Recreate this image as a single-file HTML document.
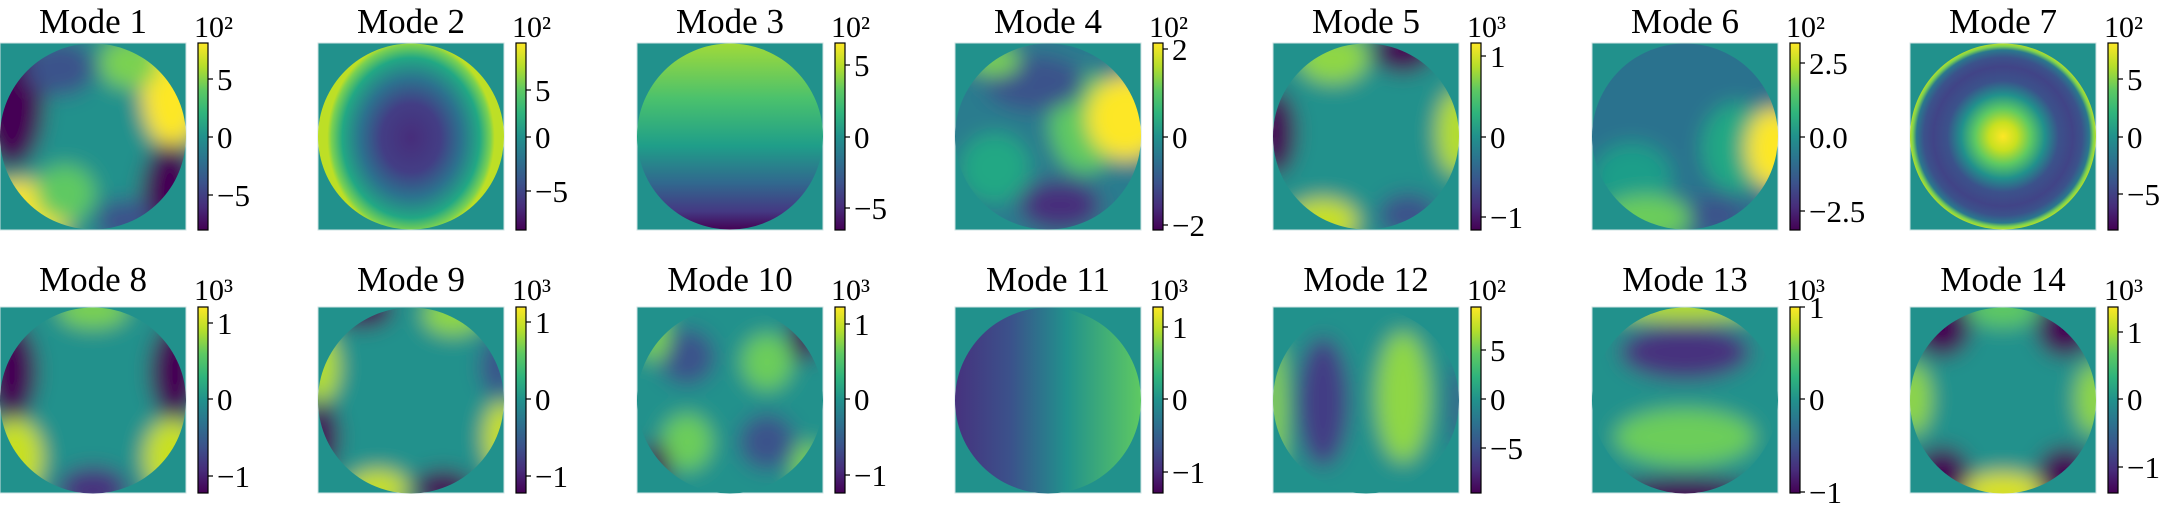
<!DOCTYPE html>
<html><head><meta charset="utf-8"><style>
html,body{margin:0;padding:0;background:#fff;}
svg{display:block;}
text{font-family:"Liberation Serif","Times New Roman",serif;fill:#000;}
.t{font-size:35px;text-anchor:middle;}
.e{font-size:30px;}
.k{font-size:31px;}
</style></head><body>
<svg width="2170" height="510" viewBox="0 0 2170 510" xmlns="http://www.w3.org/2000/svg" font-family="Liberation Serif, serif">
<defs>
<linearGradient id="vir" x1="0" y1="0" x2="0" y2="1">
<stop offset="0" stop-color="#fde725"/><stop offset="0.125" stop-color="#b5de2b"/><stop offset="0.25" stop-color="#5ec962"/><stop offset="0.375" stop-color="#2fb47c"/><stop offset="0.5" stop-color="#21918c"/><stop offset="0.625" stop-color="#2c728e"/><stop offset="0.75" stop-color="#3b528b"/><stop offset="0.875" stop-color="#472d7b"/><stop offset="1" stop-color="#440154"/>
</linearGradient>
<clipPath id="c"><circle cx="93" cy="93.5" r="93"/></clipPath>
<filter id="b" x="-30%" y="-30%" width="160%" height="160%"><feGaussianBlur stdDeviation="10"/></filter>
<radialGradient id="g2" gradientUnits="userSpaceOnUse" cx="93" cy="95" r="93" gradientTransform="translate(93 95) scale(0.9 1.05) translate(-93 -95)">
<stop offset="0" stop-color="#472d7b"/><stop offset="0.35" stop-color="#433e85"/><stop offset="0.6" stop-color="#2c728e"/><stop offset="0.82" stop-color="#22a884"/><stop offset="0.95" stop-color="#7ad151"/><stop offset="1" stop-color="#bddf26"/>
</radialGradient>
<linearGradient id="g3" x1="0" y1="0" x2="0" y2="1">
<stop offset="0" stop-color="#a0da39"/><stop offset="0.3" stop-color="#4ac16d"/><stop offset="0.55" stop-color="#1f9e89"/><stop offset="0.75" stop-color="#31688e"/><stop offset="0.9" stop-color="#443983"/><stop offset="1" stop-color="#440154"/>
</linearGradient>
<radialGradient id="g7" gradientUnits="userSpaceOnUse" cx="93" cy="93.5" r="93">
<stop offset="0" stop-color="#fde725"/><stop offset="0.15" stop-color="#c8e020"/><stop offset="0.3" stop-color="#5ec962"/><stop offset="0.45" stop-color="#21918c"/><stop offset="0.6" stop-color="#3b528b"/><stop offset="0.75" stop-color="#414487"/><stop offset="0.85" stop-color="#3b528b"/><stop offset="0.93" stop-color="#2a788e"/><stop offset="0.97" stop-color="#7ad151"/><stop offset="1" stop-color="#b5de2b"/>
</radialGradient>
<linearGradient id="g11" x1="0" y1="0" x2="1" y2="0">
<stop offset="0" stop-color="#46327e"/><stop offset="0.3" stop-color="#3b528b"/><stop offset="0.6" stop-color="#21918c"/><stop offset="1" stop-color="#5ec962"/>
</linearGradient>
</defs>

<!-- Mode 1 -->
<g transform="translate(0,43)">
<rect width="186" height="187" fill="#21918c" stroke="#cfe3e3" stroke-width="1"/>
<g clip-path="url(#c)"><g filter="url(#b)"><rect x="-20" y="-20" width="226" height="227" fill="#21918c"/>
<ellipse cx="12" cy="60" rx="32" ry="65" fill="#440154"/><ellipse cx="60" cy="25" rx="35" ry="28" fill="#3b528b"/>
<ellipse cx="172" cy="50" rx="30" ry="55" fill="#fde725"/><ellipse cx="130" cy="20" rx="30" ry="25" fill="#7ad151"/>
<ellipse cx="25" cy="168" rx="50" ry="30" fill="#fde725"/><ellipse cx="65" cy="150" rx="30" ry="28" fill="#5ec962"/>
<ellipse cx="170" cy="150" rx="28" ry="50" fill="#440154"/><ellipse cx="125" cy="178" rx="30" ry="22" fill="#3b528b"/>
</g></g></g>
<!-- Mode 2 -->
<g transform="translate(318,43)">
<rect width="186" height="187" fill="#21918c" stroke="#cfe3e3" stroke-width="1"/>
<g clip-path="url(#c)"><rect width="186" height="187" fill="url(#g2)"/></g></g>
<!-- Mode 3 -->
<g transform="translate(637,43)">
<rect width="186" height="187" fill="#21918c" stroke="#cfe3e3" stroke-width="1"/>
<g clip-path="url(#c)"><rect width="186" height="187" fill="url(#g3)"/></g></g>
<!-- Mode 4 -->
<g transform="translate(955,43)">
<rect width="186" height="187" fill="#21918c" stroke="#cfe3e3" stroke-width="1"/>
<g clip-path="url(#c)"><g filter="url(#b)"><rect x="-20" y="-20" width="226" height="227" fill="#2a7b8e"/>
<ellipse cx="130" cy="80" rx="35" ry="50" fill="#5ec962"/><ellipse cx="172" cy="75" rx="40" ry="42" fill="#fde725"/>
<ellipse cx="80" cy="40" rx="50" ry="28" fill="#3b528b"/><ellipse cx="105" cy="162" rx="40" ry="25" fill="#472d7b"/>
<ellipse cx="40" cy="125" rx="35" ry="35" fill="#22a884"/><ellipse cx="40" cy="18" rx="25" ry="15" fill="#7ad151"/>
</g></g></g>
<!-- Mode 5 -->
<g transform="translate(1273,43)">
<rect width="186" height="187" fill="#21918c" stroke="#cfe3e3" stroke-width="1"/>
<g clip-path="url(#c)"><g filter="url(#b)"><rect x="-20" y="-20" width="226" height="227" fill="#21918c"/>
<ellipse cx="130" cy="8" rx="30" ry="22" fill="#440154"/><ellipse cx="3" cy="90" rx="20" ry="42" fill="#440154"/>
<ellipse cx="184" cy="90" rx="20" ry="42" fill="#b5de2b"/><ellipse cx="50" cy="178" rx="35" ry="22" fill="#c8e020"/>
<ellipse cx="60" cy="15" rx="35" ry="25" fill="#8fd744"/><ellipse cx="135" cy="172" rx="30" ry="22" fill="#3b528b"/>
</g></g></g>
<!-- Mode 6 -->
<g transform="translate(1592,43)">
<rect width="186" height="187" fill="#21918c" stroke="#cfe3e3" stroke-width="1"/>
<g clip-path="url(#c)"><g filter="url(#b)"><rect x="-20" y="-20" width="226" height="227" fill="#2c728e"/>
<ellipse cx="145" cy="105" rx="35" ry="45" fill="#22a884"/><ellipse cx="182" cy="105" rx="28" ry="40" fill="#fde725"/>
<ellipse cx="40" cy="135" rx="40" ry="35" fill="#1f9e89"/><ellipse cx="55" cy="175" rx="45" ry="22" fill="#6ccd5a"/>
<ellipse cx="125" cy="172" rx="28" ry="20" fill="#3b528b"/>
</g></g></g>
<!-- Mode 7 -->
<g transform="translate(1910,43)">
<rect width="186" height="187" fill="#21918c" stroke="#cfe3e3" stroke-width="1"/>
<g clip-path="url(#c)"><rect width="186" height="187" fill="url(#g7)"/></g></g>

<!-- Mode 8 -->
<g transform="translate(0,307)">
<rect width="186" height="186" fill="#21918c" stroke="#cfe3e3" stroke-width="1"/>
<g clip-path="url(#c)"><g filter="url(#b)"><rect x="-20" y="-20" width="226" height="227" fill="#21918c"/>
<ellipse cx="12" cy="65" rx="25" ry="48" fill="#440154"/><ellipse cx="175" cy="65" rx="25" ry="48" fill="#440154"/>
<ellipse cx="93" cy="182" rx="35" ry="22" fill="#46327e"/><ellipse cx="93" cy="3" rx="35" ry="18" fill="#7ad151"/>
<ellipse cx="15" cy="150" rx="28" ry="38" fill="#c8e020"/><ellipse cx="172" cy="150" rx="28" ry="38" fill="#c8e020"/>
</g></g></g>
<!-- Mode 9 -->
<g transform="translate(318,307)">
<rect width="186" height="186" fill="#21918c" stroke="#cfe3e3" stroke-width="1"/>
<g clip-path="url(#c)"><g filter="url(#b)"><rect x="-20" y="-20" width="226" height="227" fill="#21918c"/>
<ellipse cx="45" cy="3" rx="30" ry="18" fill="#440154"/><ellipse cx="135" cy="8" rx="30" ry="20" fill="#8fd744"/>
<ellipse cx="3" cy="60" rx="18" ry="35" fill="#b5de2b"/><ellipse cx="3" cy="130" rx="18" ry="35" fill="#440154"/>
<ellipse cx="184" cy="130" rx="18" ry="35" fill="#c8e020"/><ellipse cx="180" cy="60" rx="18" ry="30" fill="#3b528b"/>
<ellipse cx="60" cy="181" rx="30" ry="18" fill="#c8e020"/><ellipse cx="125" cy="181" rx="30" ry="18" fill="#440154"/>
</g></g></g>
<!-- Mode 10 -->
<g transform="translate(637,307)">
<rect width="186" height="186" fill="#21918c" stroke="#cfe3e3" stroke-width="1"/>
<g clip-path="url(#c)"><g filter="url(#b)"><rect x="-20" y="-20" width="226" height="227" fill="#21918c"/>
<ellipse cx="50" cy="50" rx="28" ry="28" fill="#3b528b"/><ellipse cx="130" cy="135" rx="28" ry="28" fill="#3b528b"/>
<ellipse cx="130" cy="55" rx="25" ry="28" fill="#6ccd5a"/><ellipse cx="50" cy="135" rx="25" ry="28" fill="#6ccd5a"/>
<ellipse cx="168" cy="30" rx="15" ry="25" fill="#440154"/><ellipse cx="18" cy="160" rx="15" ry="25" fill="#440154"/>
<ellipse cx="18" cy="30" rx="15" ry="25" fill="#7ad151"/><ellipse cx="170" cy="160" rx="15" ry="25" fill="#7ad151"/>
</g></g></g>
<!-- Mode 11 -->
<g transform="translate(955,307)">
<rect width="186" height="186" fill="#21918c" stroke="#cfe3e3" stroke-width="1"/>
<g clip-path="url(#c)"><rect width="186" height="187" fill="url(#g11)"/></g></g>
<!-- Mode 12 -->
<g transform="translate(1273,307)">
<rect width="186" height="186" fill="#21918c" stroke="#cfe3e3" stroke-width="1"/>
<g clip-path="url(#c)"><g filter="url(#b)"><rect x="-20" y="-20" width="226" height="227" fill="#21918c"/>
<ellipse cx="50" cy="95" rx="26" ry="65" fill="#433e85"/><ellipse cx="130" cy="90" rx="26" ry="65" fill="#8fd744"/>
<ellipse cx="2" cy="100" rx="10" ry="65" fill="#8fd744"/><ellipse cx="185" cy="100" rx="8" ry="45" fill="#3b528b"/>
</g></g></g>
<!-- Mode 13 -->
<g transform="translate(1592,307)">
<rect width="186" height="186" fill="#21918c" stroke="#cfe3e3" stroke-width="1"/>
<g clip-path="url(#c)"><g filter="url(#b)"><rect x="-20" y="-20" width="226" height="227" fill="#21918c"/>
<ellipse cx="93" cy="-2" rx="80" ry="16" fill="#b5de2b"/><ellipse cx="93" cy="45" rx="65" ry="28" fill="#46327e"/>
<ellipse cx="93" cy="130" rx="70" ry="28" fill="#6ccd5a"/><ellipse cx="93" cy="192" rx="80" ry="22" fill="#440154"/>
</g></g></g>
<!-- Mode 14 -->
<g transform="translate(1910,307)">
<rect width="186" height="186" fill="#21918c" stroke="#cfe3e3" stroke-width="1"/>
<g clip-path="url(#c)"><g filter="url(#b)"><rect x="-20" y="-20" width="226" height="227" fill="#21918c"/>
<ellipse cx="32" cy="22" rx="28" ry="28" fill="#440154"/><ellipse cx="155" cy="22" rx="28" ry="28" fill="#440154"/>
<ellipse cx="32" cy="168" rx="28" ry="28" fill="#440154"/><ellipse cx="155" cy="168" rx="28" ry="28" fill="#440154"/>
<ellipse cx="3" cy="92" rx="18" ry="35" fill="#8fd744"/><ellipse cx="184" cy="92" rx="18" ry="35" fill="#8fd744"/>
<ellipse cx="93" cy="2" rx="35" ry="18" fill="#5ec962"/><ellipse cx="93" cy="184" rx="40" ry="18" fill="#dce319"/>
</g></g></g>

<g stroke="#000" stroke-width="1.2">
<rect x="198" y="43" width="10" height="187" fill="url(#vir)"/>
<rect x="516" y="43" width="10" height="187" fill="url(#vir)"/>
<rect x="835" y="43" width="10" height="187" fill="url(#vir)"/>
<rect x="1153" y="43" width="10" height="187" fill="url(#vir)"/>
<rect x="1471" y="43" width="10" height="187" fill="url(#vir)"/>
<rect x="1790" y="43" width="10" height="187" fill="url(#vir)"/>
<rect x="2108" y="43" width="10" height="187" fill="url(#vir)"/>
<rect x="198" y="307" width="10" height="186" fill="url(#vir)"/>
<rect x="516" y="307" width="10" height="186" fill="url(#vir)"/>
<rect x="835" y="307" width="10" height="186" fill="url(#vir)"/>
<rect x="1153" y="307" width="10" height="186" fill="url(#vir)"/>
<rect x="1471" y="307" width="10" height="186" fill="url(#vir)"/>
<rect x="1790" y="307" width="10" height="186" fill="url(#vir)"/>
<rect x="2108" y="307" width="10" height="186" fill="url(#vir)"/>
<path d="M208 79h5M208 137h5M208 195h5
M526 90h5M526 137h5M526 191h5
M845 65h5M845 137h5M845 208h5
M1163 49h5M1163 137h5M1163 225h5
M1481 56h5M1481 137h5M1481 217h5
M1800 63h5M1800 137h5M1800 211h5
M2118 79h5M2118 137h5M2118 194h5
M208 323h5M208 399h5M208 476h5
M526 322h5M526 399h5M526 476h5
M845 324h5M845 399h5M845 475h5
M1163 327h5M1163 399h5M1163 472h5
M1481 350h5M1481 399h5M1481 448h5
M1800 307h5M1800 399h5M1800 492h5
M2118 332h5M2118 399h5M2118 467h5" fill="none"/>
</g>

<text class="t" x="93" y="33">Mode 1</text>
<text class="t" x="411" y="33">Mode 2</text>
<text class="t" x="730" y="33">Mode 3</text>
<text class="t" x="1048" y="33">Mode 4</text>
<text class="t" x="1366" y="33">Mode 5</text>
<text class="t" x="1685" y="33">Mode 6</text>
<text class="t" x="2003" y="33">Mode 7</text>
<text class="t" x="93" y="291">Mode 8</text>
<text class="t" x="411" y="291">Mode 9</text>
<text class="t" x="730" y="291">Mode 10</text>
<text class="t" x="1048" y="291">Mode 11</text>
<text class="t" x="1366" y="291">Mode 12</text>
<text class="t" x="1685" y="291">Mode 13</text>
<text class="t" x="2003" y="291">Mode 14</text>

<text class="e" x="194" y="37">10²</text>
<text class="e" x="512" y="37">10²</text>
<text class="e" x="831" y="37">10²</text>
<text class="e" x="1149" y="37">10²</text>
<text class="e" x="1467" y="37">10³</text>
<text class="e" x="1786" y="37">10²</text>
<text class="e" x="2104" y="37">10²</text>
<text class="e" x="194" y="300">10³</text>
<text class="e" x="512" y="300">10³</text>
<text class="e" x="831" y="300">10³</text>
<text class="e" x="1149" y="300">10³</text>
<text class="e" x="1467" y="300">10²</text>
<text class="e" x="1786" y="300">10³</text>
<text class="e" x="2104" y="300">10³</text>

<text class="k" x="217" y="90">5</text><text class="k" x="217" y="148">0</text><text class="k" x="217" y="206">−5</text>
<text class="k" x="535" y="101">5</text><text class="k" x="535" y="148">0</text><text class="k" x="535" y="202">−5</text>
<text class="k" x="854" y="76">5</text><text class="k" x="854" y="148">0</text><text class="k" x="854" y="219">−5</text>
<text class="k" x="1172" y="60">2</text><text class="k" x="1172" y="148">0</text><text class="k" x="1172" y="236">−2</text>
<text class="k" x="1490" y="67">1</text><text class="k" x="1490" y="148">0</text><text class="k" x="1490" y="228">−1</text>
<text class="k" x="1809" y="74">2.5</text><text class="k" x="1809" y="148">0.0</text><text class="k" x="1809" y="222">−2.5</text>
<text class="k" x="2127" y="90">5</text><text class="k" x="2127" y="148">0</text><text class="k" x="2127" y="205">−5</text>
<text class="k" x="217" y="334">1</text><text class="k" x="217" y="410">0</text><text class="k" x="217" y="487">−1</text>
<text class="k" x="535" y="333">1</text><text class="k" x="535" y="410">0</text><text class="k" x="535" y="487">−1</text>
<text class="k" x="854" y="335">1</text><text class="k" x="854" y="410">0</text><text class="k" x="854" y="486">−1</text>
<text class="k" x="1172" y="338">1</text><text class="k" x="1172" y="410">0</text><text class="k" x="1172" y="483">−1</text>
<text class="k" x="1490" y="361">5</text><text class="k" x="1490" y="410">0</text><text class="k" x="1490" y="459">−5</text>
<text class="k" x="1809" y="318">1</text><text class="k" x="1809" y="410">0</text><text class="k" x="1809" y="503">−1</text>
<text class="k" x="2127" y="343">1</text><text class="k" x="2127" y="410">0</text><text class="k" x="2127" y="478">−1</text>
</svg>
</body></html>
